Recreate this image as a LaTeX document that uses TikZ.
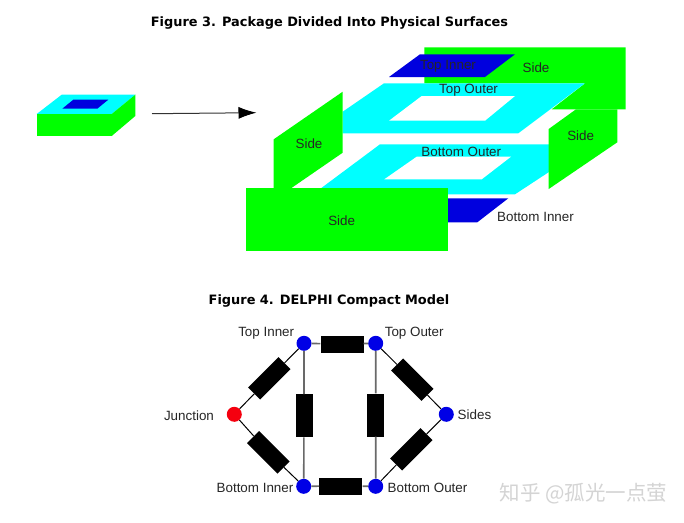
\documentclass[tikz,border=0pt]{standalone}
\usepackage{fontspec}
\setmainfont{Liberation Sans}
\newfontfamily\titlefont{DejaVu Sans}
\newfontfamily\cjkfont{Noto Sans CJK SC}
\usetikzlibrary{arrows.meta}
\definecolor{pkgreen}{RGB}{0,255,0}
\definecolor{pkcyan}{RGB}{0,255,255}
\definecolor{pkblue}{RGB}{0,0,222}
\definecolor{ndblue}{RGB}{0,0,230}
\definecolor{ndred}{RGB}{245,0,15}
\definecolor{wire}{RGB}{105,105,105}
\definecolor{wmark}{RGB}{212,212,212}
\tikzset{
  greenface/.style={fill=pkgreen,draw=none},
  cyanface/.style={fill=pkcyan,draw=none},
  blueface/.style={fill=pkblue,draw=none},
  holeface/.style={fill=white,draw=none},
  figtitle/.style={font=\titlefont\bfseries\fontsize{12.9}{15}\selectfont,inner sep=0pt,text=black,yshift=-1.8pt},
  lbl/.style={font=\fontsize{13.4}{15}\selectfont,inner sep=0pt,text=black!85,yshift=-1.2pt},
  junc/.style={circle,fill=#1,draw=none,minimum size=15pt,inner sep=0pt},
  res/.style={rectangle,fill=black,draw=none,minimum width=43pt,minimum height=17pt,inner sep=0pt},
  graywire/.style={draw=wire,line width=1.6pt},
  thinwire/.style={draw=black,line width=1pt}
}
\begin{document}
\begin{tikzpicture}[x=1pt,y=-1pt]
\useasboundingbox (0,0) rectangle (684,522);
\fill[white] (0,0) rectangle (684,522);
% titles
\node[figtitle] (t3) at (329.5,21) {Figure 3. Package Divided Into Physical Surfaces};
\node[figtitle] (t4) at (329,299) {Figure 4. DELPHI Compact Model};
% small package
\fill[cyanface] (36.7,114) -- (61.7,94.7) -- (135.3,94.7) -- (111.7,114) -- cycle;
\fill[blueface] (73.3,99.7) -- (108.3,99.7) -- (97.3,108.7) -- (62.3,108.7) -- cycle;
\fill[greenface] (36.7,114) rectangle (111.7,136);
\fill[greenface] (111.7,114) -- (135.3,94.7) -- (135.3,116) -- (111.7,136) -- cycle;
% arrow
\coordinate (arrA) at (152,113.7);
\coordinate (arrB) at (256.5,112.7);
\draw[black!80,line width=1pt,-{Latex[black,length=18pt,width=12pt]}] (arrA) -- (arrB);
% back side
\fill[greenface] (424.3,47.3) -- (625.7,47.3) -- (625.7,109.3) -- (551.7,109.3) -- (585,83.3) -- (424.3,83.3) -- cycle;
% top inner
\fill[blueface] (420,54.3) -- (515,54.3) -- (485,77) -- (389,77) -- cycle;
% top outer
\fill[cyanface] (384,83.3) -- (585,83.3) -- (518.3,133.3) -- (342.7,133.3) -- (342.7,111.7) -- cycle;
\fill[holeface] (421.7,96) -- (515,96) -- (485,120.7) -- (389,120.7) -- cycle;
% bottom outer
\fill[cyanface] (380,144.3) -- (552,144.3) -- (552,170) -- (515,194.3) -- (440,194.3) -- (440,189) -- (320,189) -- cycle;
\fill[holeface] (416.7,156.7) -- (511,156.7) -- (481.7,179.3) -- (384.3,179.3) -- cycle;
% bottom inner
\fill[blueface] (447,198.3) -- (508.3,198.3) -- (477.3,222.3) -- (447,222.3) -- cycle;
% right side
\fill[greenface] (548.7,129) -- (576,109.3) -- (617.3,109.3) -- (617.3,142.3) -- (548.7,189) -- cycle;
% left side
\fill[greenface] (273.7,139.3) -- (342.7,91.7) -- (342.7,152.7) -- (291,188.3) -- (273.7,188.3) -- cycle;
% front side
\fill[greenface] (245.7,188.3) rectangle (447.7,251.3);
% package labels
\node[lbl] (lTI) at (448,65) {Top Inner};
\node[lbl] (lS1) at (536,66.3) {Side};
\node[lbl] (lTO) at (468.5,89.3) {Top Outer};
\node[lbl] (lS2) at (309,142.5) {Side};
\node[lbl] (lS3) at (580.7,134.3) {Side};
\node[lbl] (lBO) at (461.3,150.5) {Bottom Outer};
\node[lbl] (lBI) at (535.5,215.5) {Bottom Inner};
\node[lbl] (lS4) at (341.7,219.5) {Side};
% circuit
\node[junc=ndblue] (TI) at (304,343.3) {};
\node[junc=ndblue] (TO) at (375.7,343.3) {};
\node[junc=ndred] (J) at (234.3,414.3) {};
\node[junc=ndblue] (S) at (446.3,414.3) {};
\node[junc=ndblue] (BI) at (303.7,486.3) {};
\node[junc=ndblue] (BO) at (375.7,486.3) {};
\node[res] (Rt) at (342,344) {};
\node[res] (Rb) at (340.8,486) {};
\node[res,rotate=90] (Rl) at (304,415.7) {};
\node[res,rotate=90] (Rr) at (375.8,415) {};
\node[res,rotate=45] (Rjt) at (269.3,378.3) {};
\node[res,rotate=-45] (Rjb) at (268.3,452.3) {};
\node[res,rotate=-45] (Rst) at (412.3,379.7) {};
\node[res,rotate=45] (Rsb) at (411.3,449.3) {};
\draw[graywire] (TI) -- (Rt) (Rt) -- (TO);
\draw[graywire] (BI) -- (Rb) (Rb) -- (BO);
\draw[graywire] (TI) -- (Rl) (Rl) -- (BI);
\draw[graywire] (TO) -- (Rr) (Rr) -- (BO);
\draw[thinwire] (J) -- (Rjt) (Rjt) -- (TI);
\draw[thinwire] (J) -- (Rjb) (Rjb) -- (BI);
\draw[thinwire] (TO) -- (Rst) (Rst) -- (S);
\draw[thinwire] (BO) -- (Rsb) (Rsb) -- (S);
% circuit labels
\node[lbl] (cTI) at (266.2,332.3) {Top Inner};
\node[lbl] (cTO) at (414.2,331.7) {Top Outer};
\node[lbl] (cJ) at (189,414.7) {Junction};
\node[lbl] (cS) at (474.5,413.7) {Sides};
\node[lbl] (cBI) at (255,486.5) {Bottom Inner};
\node[lbl] (cBO) at (427.5,486.7) {Bottom Outer};
% watermark
\node[font=\cjkfont\fontsize{20.5}{24}\selectfont,text=wmark,inner sep=0pt] (wm) at (583.5,493.5) {知乎 @孤光一点萤};
\end{tikzpicture}
\end{document}
